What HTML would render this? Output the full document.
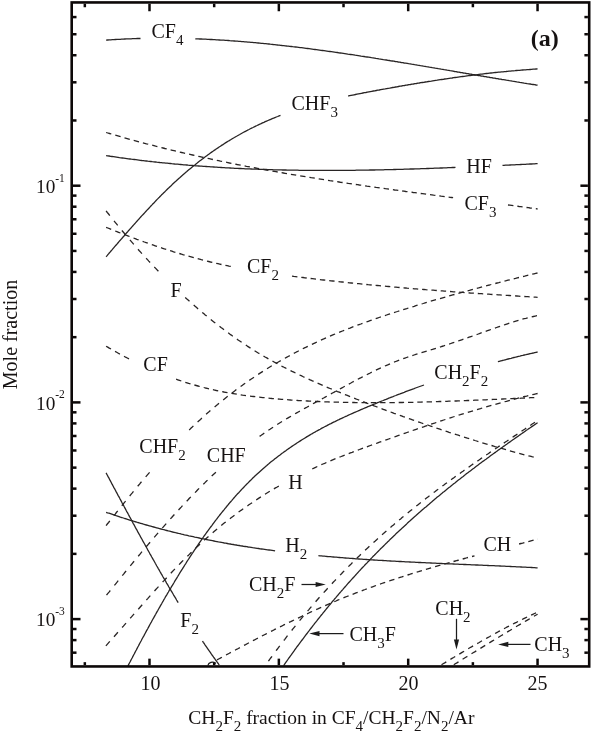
<!DOCTYPE html>
<html><head><meta charset="utf-8">
<style>
html,body{margin:0;padding:0;background:#fff;}
body{width:592px;height:736px;overflow:hidden;}
svg{display:block;}
text{font-family:"Liberation Serif","Times New Roman",serif;fill:#161212;}
.l{font-size:20px;}
.s{font-size:15px;}
</style></head>
<body>
<svg width="592" height="736" viewBox="0 0 592 736">
<rect width="592" height="736" fill="#fff"/>
<g fill="none" stroke="#282424" stroke-width="1.3" stroke-linejoin="round">
<path d="M106.1,40.1 107.7,40.0 109.2,39.9 110.8,39.8 112.3,39.7 113.9,39.6 115.5,39.5 117.0,39.4 118.6,39.3 120.1,39.3 121.7,39.2 123.3,39.1 124.8,39.0 126.4,38.9 128.0,38.9 129.5,38.8 131.1,38.8 132.6,38.7 134.2,38.6 135.8,38.6 137.3,38.5 138.9,38.5 140.5,38.5M195.3,38.8 196.8,38.9 198.3,38.9 199.8,39.0 201.3,39.0 202.8,39.1 204.3,39.2 205.8,39.2 207.3,39.3 208.8,39.4 210.3,39.5 211.8,39.5 213.3,39.6 214.8,39.7 216.3,39.8 217.8,39.9 219.3,40.0 220.8,40.1 222.3,40.2 223.8,40.2 225.3,40.3 226.8,40.4 228.3,40.5 229.8,40.7 231.3,40.8 232.8,40.9 234.3,41.0 235.8,41.1 237.3,41.2 238.8,41.3 240.3,41.4 241.8,41.6 243.3,41.7 244.8,41.8 246.3,41.9 247.8,42.1 249.3,42.2 250.8,42.3 252.3,42.4 253.8,42.6 255.3,42.7 256.8,42.9 258.3,43.0 259.8,43.1 261.3,43.3 262.8,43.4 264.3,43.6 265.8,43.7 267.3,43.9 268.8,44.0 270.3,44.2 271.8,44.3 273.3,44.5 274.7,44.6 276.2,44.8 277.7,45.0 279.2,45.1 280.7,45.3 282.2,45.5 283.7,45.6 285.2,45.8 286.7,46.0 288.2,46.1 289.7,46.3 291.2,46.5 292.7,46.7 294.2,46.8 295.7,47.0 297.1,47.2 298.6,47.4 300.1,47.6 301.6,47.7 303.1,47.9 304.6,48.1 306.1,48.3 307.6,48.5 309.1,48.7 310.6,48.9 312.1,49.1 313.5,49.3 315.0,49.5 316.5,49.7 318.0,49.9 319.5,50.1 321.0,50.3 322.5,50.5 324.0,50.7 325.5,50.9 326.9,51.1 328.4,51.3 329.9,51.5 331.4,51.7 332.9,51.9 334.4,52.1 335.9,52.3 337.4,52.5 338.9,52.8 340.3,53.0 341.8,53.2 343.3,53.4 344.8,53.6 346.3,53.8 347.8,54.1 349.3,54.3 350.7,54.5 352.2,54.7 353.7,54.9 355.2,55.2 356.7,55.4 358.2,55.6 359.7,55.8 361.1,56.1 362.6,56.3 364.1,56.5 365.6,56.8 367.1,57.0 368.6,57.2 370.1,57.4 371.5,57.7 373.0,57.9 374.5,58.1 376.0,58.4 377.5,58.6 379.0,58.9 380.5,59.1 381.9,59.3 383.4,59.6 384.9,59.8 386.4,60.0 387.9,60.3 389.4,60.5 390.8,60.8 392.3,61.0 393.8,61.2 395.3,61.5 396.8,61.7 398.3,62.0 399.7,62.2 401.2,62.5 402.7,62.7 404.2,63.0 405.7,63.2 407.2,63.4 408.6,63.7 410.1,63.9 411.6,64.2 413.1,64.4 414.6,64.7 416.0,64.9 417.5,65.2 419.0,65.4 420.5,65.7 422.0,65.9 423.5,66.2 424.9,66.4 426.4,66.7 427.9,66.9 429.4,67.2 430.9,67.4 432.3,67.7 433.8,67.9 435.3,68.2 436.8,68.4 438.3,68.7 439.8,68.9 441.2,69.2 442.7,69.4 444.2,69.7 445.7,69.9 447.2,70.2 448.6,70.4 450.1,70.7 451.6,70.9 453.1,71.2 454.6,71.5 456.1,71.7 457.5,72.0 459.0,72.2 460.5,72.5 462.0,72.7 463.5,73.0 464.9,73.2 466.4,73.5 467.9,73.7 469.4,74.0 470.9,74.2 472.3,74.5 473.8,74.7 475.3,75.0 476.8,75.2 478.3,75.5 479.8,75.7 481.2,76.0 482.7,76.2 484.2,76.5 485.7,76.7 487.2,77.0 488.6,77.2 490.1,77.5 491.6,77.7 493.1,78.0 494.6,78.2 496.1,78.5 497.5,78.7 499.0,79.0 500.5,79.2 502.0,79.5 503.5,79.7 505.0,79.9 506.4,80.2 507.9,80.4 509.4,80.7 510.9,80.9 512.4,81.2 513.9,81.4 515.3,81.6 516.8,81.9 518.3,82.1 519.8,82.4 521.3,82.6 522.8,82.8 524.2,83.1 525.7,83.3 527.2,83.6 528.7,83.8 530.2,84.0 531.7,84.3 533.1,84.5 534.6,84.7 536.1,85.0 537.6,85.2"/>
<path d="M106.1,256.7 107.1,255.6 108.1,254.4 109.0,253.3 110.0,252.2 111.0,251.0 112.0,249.9 113.0,248.7 113.9,247.6 114.9,246.4 115.9,245.3 116.9,244.2 117.9,243.0 118.8,241.9 119.8,240.7 120.8,239.6 121.8,238.5 122.8,237.3 123.8,236.2 124.8,235.1 125.7,233.9 126.7,232.8 127.7,231.7 128.7,230.5 129.7,229.4 130.7,228.3 131.7,227.1 132.7,226.0 133.7,224.9 134.7,223.8 135.7,222.6 136.7,221.5 137.7,220.4 138.7,219.3 139.7,218.1 140.7,217.0 141.7,215.9 142.8,214.8 143.8,213.7 144.8,212.6 145.8,211.5 146.8,210.4 147.9,209.3 148.9,208.2 149.9,207.1 150.9,206.0 152.0,204.9 153.0,203.8 154.1,202.7 155.1,201.6 156.1,200.5 157.2,199.4 158.2,198.4 159.3,197.3 160.3,196.2 161.4,195.1 162.5,194.1 163.5,193.0 164.6,192.0 165.7,190.9 166.8,189.8 167.8,188.8 168.9,187.8 170.0,186.7 171.1,185.7 172.2,184.6 173.3,183.6 174.4,182.6 175.5,181.6 176.6,180.5 177.7,179.5 178.8,178.5 180.0,177.5 181.1,176.5 182.2,175.5 183.3,174.5 184.5,173.5 185.6,172.6 186.8,171.6 187.9,170.6 189.1,169.6 190.2,168.7 191.4,167.7 192.5,166.8 193.7,165.8 194.9,164.9 196.0,163.9 197.2,163.0 198.4,162.0 199.6,161.1 200.8,160.2 202.0,159.3 203.2,158.4 204.4,157.5 205.6,156.6 206.8,155.7 208.0,154.8 209.2,153.9 210.4,153.0 211.7,152.1 212.9,151.3 214.1,150.4 215.4,149.6 216.6,148.7 217.9,147.9 219.1,147.0 220.4,146.2 221.6,145.4 222.9,144.6 224.2,143.7 225.4,142.9 226.7,142.1 228.0,141.3 229.3,140.6 230.6,139.8 231.8,139.0 233.1,138.2 234.4,137.5 235.7,136.7 237.0,136.0 238.4,135.2 239.7,134.5 241.0,133.7 242.3,133.0 243.6,132.3 244.9,131.6 246.3,130.9 247.6,130.2 249.0,129.5 250.3,128.8 251.6,128.1 253.0,127.5 254.3,126.8 255.7,126.1 257.0,125.5 258.4,124.8 259.8,124.2 261.1,123.6 262.5,122.9 263.9,122.3 265.2,121.7 266.6,121.1 268.0,120.5 269.4,119.9 270.8,119.3 272.2,118.7 273.6,118.2 274.9,117.6 276.3,117.0 277.7,116.5 279.1,115.9 280.5,115.4M348.2,96.0 349.6,95.7 351.1,95.4 352.6,95.1 354.1,94.8 355.5,94.5 357.0,94.2 358.5,93.9 360.0,93.6 361.5,93.3 362.9,93.0 364.4,92.7 365.9,92.5 367.4,92.2 368.9,91.9 370.3,91.6 371.8,91.3 373.3,91.0 374.8,90.8 376.3,90.5 377.7,90.2 379.2,90.0 380.7,89.7 382.2,89.4 383.7,89.1 385.2,88.9 386.7,88.6 388.1,88.3 389.6,88.1 391.1,87.8 392.6,87.5 394.1,87.3 395.6,87.0 397.0,86.8 398.5,86.5 400.0,86.2 401.5,86.0 403.0,85.7 404.5,85.5 406.0,85.2 407.4,85.0 408.9,84.7 410.4,84.5 411.9,84.2 413.4,84.0 414.9,83.7 416.4,83.5 417.9,83.2 419.3,83.0 420.8,82.7 422.3,82.5 423.8,82.3 425.3,82.0 426.8,81.8 428.3,81.5 429.8,81.3 431.3,81.1 432.7,80.8 434.2,80.6 435.7,80.4 437.2,80.2 438.7,79.9 440.2,79.7 441.7,79.5 443.2,79.3 444.7,79.0 446.2,78.8 447.7,78.6 449.2,78.4 450.6,78.2 452.1,78.0 453.6,77.7 455.1,77.5 456.6,77.3 458.1,77.1 459.6,76.9 461.1,76.7 462.6,76.5 464.1,76.3 465.6,76.1 467.1,75.9 468.6,75.7 470.1,75.5 471.6,75.3 473.1,75.2 474.6,75.0 476.1,74.8 477.6,74.6 479.1,74.4 480.5,74.2 482.0,74.1 483.5,73.9 485.0,73.7 486.5,73.5 488.0,73.4 489.5,73.2 491.0,73.0 492.5,72.9 494.0,72.7 495.5,72.5 497.0,72.4 498.5,72.2 500.0,72.1 501.5,71.9 503.0,71.8 504.5,71.6 506.0,71.5 507.5,71.3 509.0,71.2 510.5,71.1 512.0,70.9 513.5,70.8 515.0,70.7 516.5,70.5 518.1,70.4 519.6,70.3 521.1,70.1 522.6,70.0 524.1,69.9 525.6,69.8 527.1,69.7 528.6,69.6 530.1,69.5 531.6,69.4 533.1,69.2 534.6,69.1 536.1,69.0 537.6,68.9"/>
<path d="M106.1,155.6 107.6,155.8 109.1,156.0 110.6,156.3 112.0,156.5 113.5,156.7 115.0,156.9 116.5,157.1 118.0,157.3 119.5,157.6 121.0,157.8 122.5,158.0 123.9,158.2 125.4,158.4 126.9,158.6 128.4,158.8 129.9,159.0 131.4,159.2 132.9,159.3 134.4,159.5 135.9,159.7 137.4,159.9 138.9,160.1 140.3,160.3 141.8,160.5 143.3,160.6 144.8,160.8 146.3,161.0 147.8,161.2 149.3,161.3 150.8,161.5 152.3,161.7 153.8,161.8 155.3,162.0 156.8,162.2 158.3,162.3 159.8,162.5 161.3,162.6 162.7,162.8 164.2,162.9 165.7,163.1 167.2,163.2 168.7,163.4 170.2,163.5 171.7,163.7 173.2,163.8 174.7,164.0 176.2,164.1 177.7,164.2 179.2,164.4 180.7,164.5 182.2,164.6 183.7,164.8 185.2,164.9 186.7,165.0 188.2,165.2 189.7,165.3 191.2,165.4 192.7,165.5 194.2,165.6 195.7,165.8 197.2,165.9 198.7,166.0 200.2,166.1 201.7,166.2 203.2,166.3 204.7,166.4 206.2,166.5 207.7,166.6 209.2,166.7 210.7,166.8 212.2,166.9 213.7,167.0 215.2,167.1 216.7,167.2 218.2,167.3 219.7,167.4 221.2,167.5 222.7,167.6 224.2,167.7 225.7,167.8 227.2,167.9 228.7,167.9 230.2,168.0 231.7,168.1 233.2,168.2 234.7,168.3 236.2,168.3 237.7,168.4 239.2,168.5 240.7,168.5 242.2,168.6 243.7,168.7 245.2,168.8 246.7,168.8 248.2,168.9 249.7,168.9 251.2,169.0 252.7,169.1 254.2,169.1 255.7,169.2 257.2,169.2 258.7,169.3 260.2,169.3 261.7,169.4 263.2,169.4 264.7,169.5 266.2,169.5 267.7,169.6 269.2,169.6 270.7,169.7 272.2,169.7 273.7,169.8 275.2,169.8 276.7,169.8 278.2,169.9 279.7,169.9 281.2,169.9 282.7,170.0 284.2,170.0 285.7,170.0 287.2,170.1 288.7,170.1 290.2,170.1 291.7,170.2 293.2,170.2 294.7,170.2 296.2,170.2 297.7,170.2 299.3,170.3 300.8,170.3 302.3,170.3 303.8,170.3 305.3,170.3 306.8,170.4 308.3,170.4 309.8,170.4 311.3,170.4 312.8,170.4 314.3,170.4 315.8,170.4 317.3,170.4 318.8,170.4 320.3,170.4 321.8,170.4 323.3,170.4 324.8,170.4 326.3,170.4 327.8,170.4 329.3,170.4 330.8,170.4 332.3,170.4 333.8,170.4 335.3,170.4 336.8,170.4 338.3,170.4 339.8,170.4 341.3,170.4 342.8,170.4 344.3,170.4 345.8,170.4 347.3,170.3 348.8,170.3 350.3,170.3 351.8,170.3 353.4,170.3 354.9,170.3 356.4,170.2 357.9,170.2 359.4,170.2 360.9,170.2 362.4,170.2 363.9,170.1 365.4,170.1 366.9,170.1 368.4,170.1 369.9,170.0 371.4,170.0 372.9,170.0 374.4,170.0 375.9,169.9 377.4,169.9 378.9,169.9 380.4,169.8 381.9,169.8 383.4,169.8 384.9,169.7 386.4,169.7 387.9,169.7 389.4,169.6 390.9,169.6 392.4,169.6 393.9,169.5 395.4,169.5 396.9,169.4 398.4,169.4 399.9,169.4 401.4,169.3 402.9,169.3 404.4,169.2 405.9,169.2 407.4,169.1 408.9,169.1 410.4,169.0 411.9,169.0 413.4,169.0 415.0,168.9 416.5,168.9 418.0,168.8 419.5,168.8 421.0,168.7 422.5,168.7 424.0,168.6 425.5,168.6 427.0,168.5 428.5,168.5 430.0,168.4 431.5,168.3 433.0,168.3 434.5,168.2 436.0,168.2 437.5,168.1 439.0,168.1 440.5,168.0 442.0,168.0 443.5,167.9 445.0,167.8 446.5,167.8 448.0,167.7 449.5,167.7 451.0,167.6 452.5,167.5 454.0,167.5 455.5,167.4M502.5,165.3 504.0,165.3 505.5,165.2 507.1,165.1 508.6,165.1 510.1,165.0 511.6,164.9 513.2,164.8 514.7,164.8 516.2,164.7 517.8,164.6 519.3,164.6 520.8,164.5 522.3,164.4 523.9,164.3 525.4,164.3 526.9,164.2 528.4,164.1 530.0,164.0 531.5,164.0 533.0,163.9 534.5,163.8 536.1,163.7 537.6,163.7"/>
<path d="M106.1,132.5 107.8,133.0 109.6,133.5 111.3,134.0M115.3,135.2 117.1,135.7 118.8,136.2 120.6,136.7M124.5,137.8 126.3,138.3 128.0,138.8 129.8,139.3M133.7,140.4 135.5,140.8 137.2,141.3 139.0,141.8M142.9,142.8 144.7,143.3 146.5,143.8 148.2,144.2M152.2,145.2 153.9,145.7 155.7,146.2 157.4,146.6M161.4,147.6 163.1,148.0 164.9,148.5 166.7,148.9M170.6,149.9 172.4,150.3 174.1,150.7 175.9,151.1M179.8,152.1 181.6,152.5 183.4,152.9 185.1,153.3M189.1,154.2 190.9,154.6 192.6,155.0 194.4,155.4M198.3,156.3 200.1,156.7 201.9,157.1 203.6,157.5M207.6,158.3 209.3,158.7 211.1,159.1 212.9,159.5M216.8,160.3 218.6,160.7 220.4,161.1 222.1,161.4M226.1,162.2 227.8,162.6 229.6,163.0 231.4,163.3M235.3,164.1 237.1,164.5 238.9,164.8 240.7,165.2M244.6,165.9 246.4,166.3 248.1,166.6 249.9,166.9M253.8,167.7 255.6,168.0 257.4,168.3 259.2,168.7M263.1,169.4 264.9,169.7 266.7,170.1 268.4,170.4M272.4,171.1 274.1,171.4 275.9,171.7 277.7,172.0M281.6,172.7 283.4,173.0 285.2,173.3 287.0,173.6M290.9,174.3 292.7,174.6 294.5,174.9 296.2,175.2M300.2,175.8 301.9,176.1 303.7,176.4 305.5,176.7M309.4,177.4 311.2,177.7 313.0,177.9 314.8,178.2M318.7,178.8 320.5,179.1 322.3,179.4 324.0,179.7M328.0,180.3 329.8,180.6 331.5,180.8 333.3,181.1M337.2,181.7 339.0,182.0 340.8,182.3 342.6,182.5M346.5,183.1 348.3,183.4 350.1,183.6 351.9,183.9M355.8,184.5 357.6,184.7 359.4,185.0 361.2,185.2M365.1,185.8 366.9,186.1 368.6,186.3 370.4,186.6M374.3,187.1 376.1,187.4 377.9,187.6 379.7,187.9M383.6,188.4 385.4,188.7 387.2,188.9 389.0,189.2M392.9,189.7 394.7,190.0 396.5,190.2 398.3,190.4M402.2,191.0 404.0,191.2 405.8,191.5 407.5,191.7M411.5,192.2 413.2,192.5 415.0,192.7 416.8,192.9M420.7,193.5 422.5,193.7 424.3,193.9 426.1,194.2M430.0,194.7 431.8,194.9 433.6,195.2 435.4,195.4M439.3,195.9 441.1,196.2 442.9,196.4 444.7,196.6M448.6,197.1 450.1,197.3 451.6,197.5 453.1,197.7M508.0,205.0 509.8,205.2 511.6,205.4 513.4,205.7M517.3,206.2 519.1,206.5 520.8,206.7 522.6,206.9M526.5,207.5 528.3,207.7 530.1,208.0 531.9,208.2M535.8,208.7 537.6,209.0"/>
<path d="M106.1,227.3 107.8,228.0 109.5,228.7 111.2,229.4M115.2,231.0 116.9,231.6 118.6,232.3 120.4,233.0M124.3,234.5 126.1,235.2 127.8,235.8 129.5,236.5M133.5,238.0 135.2,238.6 136.9,239.3 138.6,239.9M142.6,241.3 144.4,242.0 146.1,242.6 147.8,243.2M151.8,244.6 153.5,245.2 155.2,245.8 157.0,246.4M161.0,247.7 162.7,248.3 164.4,248.9 166.2,249.4M170.1,250.7 171.9,251.2 173.6,251.8 175.4,252.3M179.3,253.5 181.1,254.0 182.8,254.6 184.6,255.1M188.5,256.2 190.3,256.7 192.0,257.2 193.8,257.7M197.7,258.7 199.5,259.2 201.3,259.7 203.0,260.1M207.0,261.1 208.7,261.5 210.5,262.0 212.3,262.4M216.2,263.3 218.0,263.7 219.7,264.1 221.5,264.5M225.4,265.3 227.2,265.7 229.0,266.1 230.8,266.4M292.0,276.1 293.8,276.4 295.6,276.6 297.4,276.8M301.3,277.3 303.1,277.5 304.9,277.8 306.7,278.0M310.6,278.5 312.4,278.7 314.2,278.9 316.0,279.1M319.9,279.6 321.7,279.8 323.5,280.0 325.3,280.2M329.2,280.6 331.0,280.8 332.8,281.0 334.6,281.2M338.5,281.6 340.3,281.8 342.1,282.0 343.8,282.2M347.8,282.6 349.5,282.8 351.3,283.0 353.1,283.2M357.0,283.6 358.8,283.7 360.6,283.9 362.4,284.1M366.3,284.5 368.1,284.7 369.9,284.8 371.7,285.0M375.6,285.4 377.4,285.5 379.2,285.7 381.0,285.9M384.9,286.2 386.7,286.4 388.5,286.5 390.3,286.7M394.2,287.1 396.0,287.2 397.8,287.4 399.6,287.5M403.5,287.9 405.3,288.0 407.1,288.2 408.9,288.3M412.8,288.6 414.6,288.8 416.4,288.9 418.2,289.1M422.1,289.4 423.9,289.5 425.7,289.7 427.5,289.8M431.4,290.1 433.2,290.2 435.0,290.4 436.8,290.5M440.7,290.8 442.5,290.9 444.3,291.1 446.1,291.2M450.0,291.5 451.8,291.6 453.5,291.8 455.3,291.9M459.2,292.2 461.0,292.3 462.8,292.4 464.6,292.6M468.5,292.8 470.3,293.0 472.1,293.1 473.9,293.2M477.8,293.5 479.6,293.6 481.4,293.7 483.2,293.8M487.1,294.1 488.9,294.2 490.7,294.3 492.5,294.5M496.4,294.7 498.2,294.8 500.0,294.9 501.8,295.1M505.7,295.3 507.5,295.4 509.3,295.5 511.1,295.7M515.0,295.9 516.8,296.0 518.6,296.1 520.4,296.3M524.3,296.5 526.1,296.6 527.9,296.7 529.7,296.8M533.6,297.1 535.6,297.2 537.6,297.3"/>
<path d="M106.1,210.9 107.3,212.5 108.6,214.0 109.8,215.6M114.0,220.8 115.2,222.3 116.5,223.9 117.7,225.4M121.9,230.5 123.2,232.0 124.5,233.5 125.7,235.0M129.9,239.9 131.2,241.4 132.5,242.9 133.8,244.4M138.0,249.2 139.3,250.7 140.6,252.1 141.9,253.6M146.1,258.2 147.5,259.6 148.8,261.1 150.1,262.5M154.3,267.0 155.7,268.4 157.0,269.8 158.4,271.2M185.2,297.4 186.6,298.7 188.1,300.0 189.5,301.3M193.7,305.0 195.1,306.3 196.6,307.6 198.1,308.9M202.2,312.4 203.7,313.6 205.2,314.9 206.7,316.1M210.8,319.5 212.3,320.7 213.8,321.9 215.3,323.1M219.5,326.3 221.0,327.5 222.5,328.6 224.0,329.8M228.2,332.8 229.7,334.0 231.3,335.1 232.8,336.2M236.9,339.1 238.5,340.2 240.1,341.2 241.6,342.3M245.8,345.0 247.3,346.1 248.9,347.1 250.5,348.1M254.6,350.7 256.2,351.7 257.8,352.7 259.4,353.6M263.5,356.1 265.1,357.0 266.8,357.9 268.4,358.9M272.5,361.1 274.1,362.0 275.7,362.9 277.4,363.8M281.4,366.0 283.1,366.8 284.8,367.7 286.4,368.5M290.5,370.6 292.1,371.4 293.8,372.2 295.5,373.0M299.5,375.0 301.2,375.7 302.8,376.5 304.5,377.3M308.6,379.1 310.2,379.9 311.9,380.7 313.6,381.4M317.6,383.2 319.3,383.9 321.0,384.6 322.7,385.4M326.7,387.1 328.4,387.8 330.1,388.5 331.8,389.2M335.8,390.9 337.5,391.6 339.2,392.2 340.9,392.9M344.9,394.6 346.7,395.2 348.4,395.9 350.1,396.6M354.1,398.2 355.8,398.9 357.5,399.5 359.2,400.2M363.2,401.7 364.9,402.4 366.6,403.1 368.3,403.7M372.3,405.2 374.1,405.9 375.8,406.5 377.5,407.2M381.5,408.7 383.2,409.3 384.9,409.9 386.6,410.6M390.6,412.0 392.3,412.6 394.1,413.3 395.8,413.9M399.8,415.3 401.5,415.9 403.2,416.6 404.9,417.2M408.9,418.6 410.7,419.2 412.4,419.8 414.1,420.4M418.1,421.8 419.8,422.4 421.5,423.0 423.3,423.6M427.3,424.9 429.0,425.5 430.7,426.1 432.5,426.7M436.4,428.1 438.2,428.6 439.9,429.2 441.6,429.8M445.6,431.1 447.3,431.7 449.1,432.3 450.8,432.8M454.8,434.1 456.5,434.7 458.3,435.2 460.0,435.8M464.0,437.1 465.7,437.6 467.4,438.2 469.2,438.7M473.1,439.9 474.9,440.5 476.6,441.0 478.4,441.6M482.3,442.8 484.1,443.3 485.8,443.8 487.6,444.3M491.5,445.5 493.3,446.0 495.0,446.6 496.8,447.1M500.7,448.2 502.5,448.7 504.2,449.2 506.0,449.7M509.9,450.8 511.7,451.3 513.5,451.8 515.2,452.3M519.2,453.3 520.9,453.8 522.7,454.3 524.4,454.8M528.4,455.8 530.1,456.2 531.9,456.7 533.7,457.1"/>
<path d="M106.1,346.2 107.7,347.1 109.3,348.1 111.0,349.0M115.0,351.4 116.7,352.3 118.3,353.2 119.9,354.1M124.0,356.3 125.6,357.2 127.3,358.0 129.0,358.9M176.1,379.2 177.8,379.8 179.5,380.4 181.3,381.0M185.3,382.3 187.0,382.8 188.7,383.4 190.5,383.9M194.4,385.0 196.2,385.5 198.0,386.0 199.7,386.5M203.7,387.5 205.4,388.0 207.2,388.4 209.0,388.8M212.9,389.7 214.7,390.1 216.4,390.5 218.2,390.8M222.2,391.6 223.9,392.0 225.7,392.3 227.5,392.6M231.4,393.3 233.2,393.6 235.0,393.9 236.8,394.2M240.7,394.8 242.5,395.1 244.3,395.3 246.0,395.6M250.0,396.1 251.8,396.3 253.5,396.5 255.3,396.7M259.2,397.2 261.0,397.4 262.8,397.6 264.6,397.7M268.5,398.1 270.3,398.3 272.1,398.5 273.9,398.6M277.8,399.0 279.6,399.1 281.4,399.3 283.2,399.4M287.1,399.7 288.9,399.8 290.7,400.0 292.5,400.1M296.4,400.3 298.2,400.5 300.0,400.6 301.8,400.7M305.7,400.9 307.5,401.0 309.3,401.1 311.1,401.2M315.0,401.4 316.8,401.5 318.6,401.5 320.4,401.6M324.3,401.8 326.1,401.8 327.9,401.9 329.7,402.0M333.6,402.1 335.4,402.1 337.2,402.2 339.0,402.2M342.9,402.3 344.7,402.4 346.5,402.4 348.3,402.4M352.2,402.5 354.0,402.5 355.8,402.6 357.6,402.6M361.5,402.6 363.3,402.6 365.1,402.7 366.9,402.7M370.8,402.7 372.6,402.7 374.4,402.7 376.2,402.7M380.1,402.7 381.9,402.7 383.7,402.7 385.5,402.6M389.4,402.6 391.2,402.6 393.0,402.6 394.8,402.6M398.7,402.5 400.5,402.5 402.3,402.5 404.1,402.4M408.0,402.4 409.8,402.3 411.6,402.3 413.4,402.3M417.3,402.2 419.1,402.1 420.9,402.1 422.7,402.0M426.6,401.9 428.4,401.9 430.2,401.8 432.0,401.8M435.9,401.7 437.7,401.6 439.5,401.5 441.3,401.5M445.2,401.4 447.0,401.3 448.8,401.2 450.6,401.2M454.5,401.0 456.3,401.0 458.1,400.9 459.9,400.8M463.8,400.7 465.6,400.6 467.4,400.5 469.2,400.5M473.1,400.3 474.9,400.2 476.7,400.2 478.5,400.1M482.4,399.9 484.2,399.8 486.0,399.8 487.8,399.7M491.7,399.5 493.5,399.4 495.3,399.3 497.1,399.3M501.0,399.1 502.8,399.0 504.6,398.9 506.4,398.9M510.3,398.7 512.1,398.6 513.9,398.5 515.7,398.4M519.6,398.3 521.4,398.2 523.2,398.1 525.0,398.0M528.9,397.8 530.7,397.7 532.5,397.7 534.3,397.6"/>
<path d="M127.9,666.0 128.6,664.6 129.3,663.3 130.0,662.0 130.7,660.6 131.4,659.3 132.1,658.0 132.8,656.6 133.5,655.3 134.2,654.0 134.9,652.6 135.6,651.3 136.3,650.0 137.0,648.6 137.7,647.3 138.4,646.0 139.1,644.6 139.8,643.3 140.5,642.0 141.2,640.7 141.9,639.3 142.6,638.0 143.4,636.7 144.1,635.4 144.8,634.0 145.5,632.7 146.2,631.4 146.9,630.1 147.7,628.7 148.4,627.4 149.1,626.1 149.8,624.8 150.5,623.5 151.3,622.1 152.0,620.8 152.7,619.5 153.5,618.2 154.2,616.9 154.9,615.6 155.7,614.2 156.4,612.9 157.1,611.6 157.9,610.3 158.6,609.0 159.4,607.7 160.1,606.4 160.8,605.1 161.6,603.8 162.3,602.5 163.1,601.1 163.8,599.8 164.6,598.5 165.3,597.2 166.1,595.9 166.9,594.6 167.6,593.3 168.4,592.0 169.1,590.7 169.9,589.4 170.7,588.1 171.4,586.9 172.2,585.6 173.0,584.3 173.8,583.0 174.5,581.7 175.3,580.4 176.1,579.1 176.9,577.8 177.7,576.5 178.4,575.3 179.2,574.0 180.0,572.7 180.8,571.4 181.6,570.1 182.4,568.9 183.2,567.6 184.0,566.3 184.8,565.0 185.6,563.8 186.4,562.5 187.2,561.2 188.0,560.0 188.9,558.7 189.7,557.4 190.5,556.2 191.3,554.9 192.1,553.6 193.0,552.4 193.8,551.1 194.6,549.9 195.5,548.6 196.3,547.4 197.2,546.1 198.0,544.9 198.8,543.6 199.7,542.4 200.6,541.2 201.4,539.9 202.3,538.7 203.1,537.5 204.0,536.2 204.9,535.0 205.7,533.8 206.6,532.5 207.5,531.3 208.4,530.1 209.3,528.9 210.2,527.7 211.1,526.5 212.0,525.3 212.9,524.0 213.8,522.8 214.7,521.6 215.6,520.4 216.5,519.3 217.4,518.1 218.3,516.9 219.3,515.7 220.2,514.5 221.1,513.3 222.1,512.1 223.0,511.0 224.0,509.8 224.9,508.6 225.9,507.5 226.8,506.3 227.8,505.2 228.7,504.0 229.7,502.8 230.7,501.7 231.7,500.6 232.7,499.4 233.6,498.3 234.6,497.2 235.6,496.0 236.6,494.9 237.6,493.8 238.7,492.7 239.7,491.6 240.7,490.5 241.7,489.4 242.8,488.3 243.8,487.2 244.8,486.1 245.9,485.0 246.9,483.9 248.0,482.9 249.1,481.8 250.1,480.7 251.2,479.7 252.3,478.6 253.4,477.6 254.4,476.5 255.5,475.5 256.6,474.5 257.7,473.5 258.9,472.4 260.0,471.4 261.1,470.4 262.2,469.4 263.3,468.4 264.5,467.4 265.6,466.5 266.8,465.5 267.9,464.5 269.1,463.6 270.2,462.6 271.4,461.6 272.6,460.7 273.8,459.8 274.9,458.8 276.1,457.9 277.3,457.0 278.5,456.1 279.7,455.2 280.9,454.2 282.1,453.3 283.3,452.5 284.5,451.6 285.8,450.7 287.0,449.8 288.2,448.9 289.5,448.1 290.7,447.2 291.9,446.4 293.2,445.5 294.4,444.7 295.7,443.9 296.9,443.0 298.2,442.2 299.5,441.4 300.7,440.6 302.0,439.8 303.3,439.0 304.6,438.2 305.9,437.4 307.1,436.6 308.4,435.9 309.7,435.1 311.0,434.3 312.3,433.6 313.6,432.8 314.9,432.1 316.3,431.3 317.6,430.6 318.9,429.9 320.2,429.2 321.5,428.4 322.9,427.7 324.2,427.0 325.5,426.3 326.9,425.6 328.2,424.9 329.5,424.2 330.9,423.6 332.2,422.9 333.6,422.2 334.9,421.6 336.3,420.9 337.6,420.2 339.0,419.6 340.3,418.9 341.7,418.3 343.1,417.7 344.4,417.0 345.8,416.4 347.2,415.8 348.5,415.1 349.9,414.5 351.3,413.9 352.6,413.3 354.0,412.7 355.4,412.1 356.8,411.5 358.2,410.9 359.5,410.3 360.9,409.7 362.3,409.1 363.7,408.5 365.1,407.9 366.5,407.3 367.9,406.7 369.3,406.2 370.6,405.6 372.0,405.0 373.4,404.4 374.8,403.9 376.2,403.3 377.6,402.7 379.0,402.2 380.4,401.6 381.8,401.0 383.2,400.5 384.6,399.9 386.0,399.4 387.4,398.8 388.8,398.2 390.2,397.7 391.6,397.1 393.0,396.6 394.4,396.0 395.8,395.5 397.2,394.9 398.6,394.4 400.0,393.9 401.4,393.3 402.8,392.8 404.2,392.3 405.6,391.7 407.0,391.2 408.4,390.7 409.9,390.1 411.3,389.6 412.7,389.1 414.1,388.6 415.5,388.0 416.9,387.5 418.3,387.0 419.7,386.5 421.2,386.0 422.6,385.5 424.0,385.0M497.9,361.7 499.3,361.3 500.8,360.9 502.2,360.5 503.7,360.2 505.2,359.8 506.6,359.4 508.1,359.0 509.6,358.6 511.1,358.3 512.5,357.9 514.0,357.5 515.5,357.2 516.9,356.8 518.4,356.4 519.9,356.1 521.4,355.7 522.8,355.4 524.3,355.0 525.8,354.7 527.3,354.3 528.7,354.0 530.2,353.6 531.7,353.3 533.2,353.0 534.6,352.6 536.1,352.3 537.6,352.0"/>
<path d="M106.1,525.6 107.3,524.0 108.6,522.5 109.8,520.9M113.9,515.6 115.2,514.1 116.4,512.5 117.7,510.9M121.8,505.7 123.1,504.2 124.3,502.6 125.6,501.1M129.7,496.0 131.0,494.4 132.3,492.9 133.5,491.4M137.7,486.3 139.0,484.8 140.2,483.3 141.5,481.8M145.7,476.9 147.0,475.4 148.3,473.9 149.6,472.4M189.2,430.0 190.6,428.6 192.0,427.3 193.4,425.9M197.6,422.0 199.0,420.7 200.5,419.4 201.9,418.1M206.1,414.3 207.5,413.0 209.0,411.8 210.4,410.5M214.6,406.9 216.1,405.7 217.6,404.5 219.0,403.2M223.2,399.9 224.7,398.7 226.2,397.5 227.7,396.3M231.9,393.1 233.4,391.9 234.9,390.8 236.4,389.6M240.6,386.6 242.1,385.5 243.7,384.3 245.2,383.2M249.3,380.4 250.9,379.3 252.5,378.2 254.0,377.2M258.2,374.4 259.7,373.4 261.3,372.4 262.9,371.4M267.0,368.8 268.6,367.8 270.2,366.8 271.8,365.8M275.9,363.4 277.5,362.5 279.2,361.5 280.8,360.6M284.9,358.3 286.5,357.4 288.1,356.5 289.8,355.6M293.8,353.4 295.5,352.5 297.1,351.7 298.8,350.8M302.8,348.8 304.5,347.9 306.2,347.1 307.8,346.3M311.9,344.4 313.5,343.6 315.2,342.8 316.9,342.0M320.9,340.2 322.6,339.4 324.3,338.7 326.0,337.9M330.0,336.2 331.7,335.4 333.4,334.7 335.1,334.0M339.1,332.4 340.8,331.7 342.5,331.0 344.2,330.3M348.2,328.7 350.0,328.1 351.7,327.4 353.4,326.7M357.4,325.2 359.1,324.6 360.8,324.0 362.5,323.3M366.5,321.9 368.3,321.3 370.0,320.7 371.7,320.1M375.7,318.7 377.4,318.1 379.1,317.5 380.9,316.9M384.9,315.6 386.6,315.0 388.3,314.4 390.1,313.9M394.0,312.6 395.8,312.0 397.5,311.5 399.3,310.9M403.2,309.7 405.0,309.1 406.7,308.6 408.4,308.0M412.4,306.8 414.2,306.3 415.9,305.7 417.6,305.2M421.6,304.0 423.3,303.5 425.1,302.9 426.8,302.4M430.8,301.2 432.5,300.7 434.3,300.2 436.0,299.7M440.0,298.6 441.8,298.1 443.5,297.6 445.3,297.1M449.2,295.9 451.0,295.4 452.7,294.9 454.5,294.5M458.4,293.4 460.2,292.9 461.9,292.4 463.7,291.9M467.6,290.8 469.4,290.4 471.1,289.9 472.9,289.4M476.8,288.3 478.6,287.9 480.4,287.4 482.1,286.9M486.1,285.9 487.8,285.4 489.6,285.0 491.3,284.5M495.3,283.5 497.1,283.0 498.8,282.6 500.6,282.1M504.5,281.1 506.3,280.7 508.0,280.2 509.8,279.8M513.7,278.8 515.5,278.4 517.3,277.9 519.0,277.5M523.0,276.5 524.7,276.1 526.5,275.6 528.3,275.2M532.2,274.2 534.0,273.8 535.7,273.4 537.5,273.0"/>
<path d="M106.5,595.2 107.7,593.6 109.0,592.1 110.3,590.5M114.4,585.4 115.7,583.8 116.9,582.3 118.2,580.7M122.3,575.6 123.6,574.1 124.8,572.5 126.1,571.0M130.3,565.9 131.5,564.4 132.8,562.8 134.1,561.3M138.2,556.3 139.5,554.8 140.8,553.2 142.0,551.7M146.2,546.8 147.5,545.3 148.8,543.7 150.1,542.2M154.2,537.4 155.5,535.9 156.8,534.4 158.1,532.9M162.3,528.1 163.6,526.6 164.9,525.1 166.2,523.6M170.4,518.9 171.7,517.5 173.0,516.0 174.4,514.5M178.5,510.0 179.9,508.5 181.2,507.1 182.5,505.6M186.7,501.2 188.1,499.8 189.4,498.3 190.8,496.9M195.0,492.6 196.4,491.2 197.7,489.8 199.1,488.4M203.3,484.2 204.7,482.9 206.1,481.5 207.5,480.1M211.7,476.1 213.1,474.8 214.5,473.5 215.9,472.2M259.6,436.4 261.2,435.3 262.7,434.2 264.3,433.1M268.4,430.3 270.0,429.3 271.5,428.2 273.1,427.2M277.2,424.5 278.8,423.5 280.4,422.5 282.0,421.5M286.1,419.0 287.7,418.1 289.4,417.1 291.0,416.2M295.1,413.8 296.7,412.9 298.3,412.0 299.9,411.1M304.0,408.8 305.6,407.9 307.3,407.0 308.9,406.1M313.0,403.8 314.6,402.9 316.2,402.0 317.9,401.1M321.9,398.9 323.6,398.0 325.2,397.1 326.8,396.2M330.9,393.9 332.5,393.0 334.2,392.1 335.8,391.2M339.9,389.0 341.5,388.1 343.1,387.2 344.8,386.3M348.8,384.1 350.5,383.2 352.1,382.3 353.8,381.4M357.8,379.3 359.5,378.4 361.1,377.6 362.8,376.7M366.8,374.7 368.5,373.8 370.2,373.0 371.8,372.2M375.9,370.2 377.5,369.4 379.2,368.6 380.9,367.9M384.9,366.0 386.6,365.3 388.3,364.6 390.0,363.8M394.0,362.2 395.7,361.5 397.4,360.8 399.2,360.2M403.2,358.7 404.9,358.1 406.6,357.5 408.3,356.9M412.3,355.6 414.1,355.0 415.8,354.4 417.5,353.9M421.5,352.7 423.3,352.1 425.0,351.6 426.7,351.1M430.7,349.9 432.4,349.4 434.2,348.8 435.9,348.3M439.9,347.1 441.6,346.5 443.4,346.0 445.1,345.4M449.1,344.1 450.8,343.5 452.5,342.9 454.3,342.4M458.2,341.0 460.0,340.4 461.7,339.8 463.4,339.2M467.4,337.8 469.1,337.2 470.9,336.6 472.6,336.0M476.6,334.6 478.3,334.0 480.0,333.3 481.7,332.7M485.7,331.3 487.5,330.7 489.2,330.1 490.9,329.5M494.9,328.1 496.6,327.5 498.3,326.9 500.1,326.3M504.0,325.0 505.8,324.4 507.5,323.8 509.3,323.2M513.2,322.0 515.0,321.4 516.7,320.9 518.5,320.4M522.4,319.2 524.2,318.7 525.9,318.3 527.7,317.8M531.7,316.9 533.4,316.5 535.2,316.1 537.0,315.7"/>
<path d="M105.9,645.9 107.2,644.4 108.5,642.9 109.8,641.4M114.0,636.7 115.3,635.2 116.6,633.8 117.9,632.3M122.1,627.5 123.4,626.1 124.7,624.6 126.0,623.1M130.2,618.3 131.5,616.9 132.8,615.4 134.1,613.9M138.3,609.2 139.6,607.7 140.9,606.2 142.2,604.7M146.4,600.0 147.7,598.6 149.0,597.1 150.3,595.6M154.5,591.0 155.8,589.5 157.1,588.1 158.5,586.6M162.6,582.0 164.0,580.6 165.3,579.2 166.7,577.7M170.8,573.3 172.2,571.8 173.5,570.4 174.9,569.0M179.1,564.6 180.4,563.2 181.8,561.8 183.2,560.4M187.4,556.2 188.8,554.9 190.2,553.5 191.5,552.1M195.7,548.1 197.1,546.8 198.6,545.4 200.0,544.1M204.2,540.3 205.6,539.0 207.0,537.7 208.5,536.4M212.7,532.7 214.1,531.5 215.6,530.2 217.1,529.0M221.3,525.6 222.7,524.3 224.2,523.1 225.7,521.9M229.9,518.7 231.4,517.5 232.9,516.4 234.5,515.2M238.6,512.1 240.1,511.0 241.7,509.9 243.2,508.8M247.4,505.9 248.9,504.8 250.5,503.8 252.1,502.7M256.2,500.0 257.8,498.9 259.3,497.9 260.9,496.9M265.0,494.3 266.6,493.3 268.2,492.3 269.8,491.3M273.9,488.9 275.5,487.9 277.2,487.0 278.8,486.1M312.3,468.8 313.9,468.1 315.6,467.3 317.3,466.5M321.3,464.7 323.0,464.0 324.7,463.3 326.4,462.5M330.4,460.9 332.1,460.1 333.8,459.4 335.5,458.7M339.5,457.1 341.2,456.5 342.9,455.8 344.7,455.1M348.7,453.6 350.4,452.9 352.1,452.3 353.8,451.6M357.8,450.1 359.5,449.5 361.2,448.8 363.0,448.2M366.9,446.8 368.7,446.1 370.4,445.5 372.1,444.9M376.1,443.5 377.8,442.8 379.5,442.2 381.3,441.6M385.3,440.2 387.0,439.6 388.7,439.0 390.4,438.4M394.4,437.0 396.1,436.3 397.9,435.7 399.6,435.1M403.6,433.7 405.3,433.1 407.0,432.5 408.8,431.9M412.7,430.5 414.5,429.9 416.2,429.3 417.9,428.7M421.9,427.3 423.6,426.8 425.4,426.2 427.1,425.6M431.1,424.2 432.8,423.6 434.5,423.1 436.3,422.5M440.2,421.2 442.0,420.6 443.7,420.0 445.4,419.5M449.4,418.2 451.2,417.6 452.9,417.0 454.6,416.5M458.6,415.2 460.3,414.7 462.1,414.1 463.8,413.6M467.8,412.4 469.5,411.8 471.3,411.3 473.0,410.8M477.0,409.6 478.7,409.1 480.5,408.6 482.2,408.0M486.2,406.9 487.9,406.4 489.7,405.9 491.4,405.4M495.4,404.3 497.1,403.8 498.9,403.3 500.6,402.8M504.6,401.7 506.4,401.3 508.1,400.8 509.9,400.3M513.8,399.3 515.6,398.8 517.3,398.4 519.1,397.9M523.0,396.9 524.8,396.5 526.6,396.1 528.3,395.6M532.3,394.7 534.0,394.3 535.8,393.9 537.6,393.5"/>
<path d="M106.1,512.3 107.5,512.8 109.0,513.2 110.4,513.7 111.8,514.2 113.2,514.7 114.7,515.2 116.1,515.7 117.5,516.1 119.0,516.6 120.4,517.1 121.8,517.5 123.3,518.0 124.7,518.5 126.2,518.9 127.6,519.4 129.0,519.8 130.5,520.3 131.9,520.7 133.4,521.2 134.8,521.6 136.3,522.0 137.7,522.5 139.2,522.9 140.6,523.3 142.0,523.7 143.5,524.2 144.9,524.6 146.4,525.0 147.9,525.4 149.3,525.8 150.8,526.2 152.2,526.6 153.7,527.0 155.1,527.4 156.6,527.8 158.0,528.2 159.5,528.6 161.0,529.0 162.4,529.4 163.9,529.7 165.3,530.1 166.8,530.5 168.3,530.9 169.7,531.2 171.2,531.6 172.7,532.0 174.1,532.3 175.6,532.7 177.1,533.0 178.5,533.4 180.0,533.7 181.5,534.1 182.9,534.4 184.4,534.8 185.9,535.1 187.4,535.4 188.8,535.8 190.3,536.1 191.8,536.4 193.2,536.7 194.7,537.1 196.2,537.4 197.7,537.7 199.2,538.0 200.6,538.3 202.1,538.6 203.6,538.9 205.1,539.2 206.5,539.5 208.0,539.8 209.5,540.1 211.0,540.4 212.5,540.7 213.9,541.0 215.4,541.3 216.9,541.6 218.4,541.9 219.9,542.1 221.4,542.4 222.8,542.7 224.3,543.0 225.8,543.2 227.3,543.5 228.8,543.8 230.3,544.0 231.8,544.3 233.3,544.5 234.7,544.8 236.2,545.0 237.7,545.3 239.2,545.5 240.7,545.8 242.2,546.0 243.7,546.3 245.2,546.5 246.7,546.7 248.2,547.0 249.6,547.2 251.1,547.4 252.6,547.7 254.1,547.9 255.6,548.1 257.1,548.3 258.6,548.5 260.1,548.8 261.6,549.0 263.1,549.2 264.6,549.4 266.1,549.6 267.6,549.8 269.1,550.0 270.6,550.2 272.1,550.4 273.6,550.6 275.1,550.8M318.4,555.6 319.9,555.8 321.4,555.9 322.9,556.1 324.4,556.2 325.9,556.3 327.4,556.5 328.9,556.6 330.4,556.7 331.9,556.9 333.4,557.0 334.9,557.1 336.4,557.2 337.9,557.4 339.4,557.5 340.9,557.6 342.4,557.7 343.9,557.9 345.4,558.0 346.9,558.1 348.4,558.2 349.9,558.3 351.4,558.4 352.9,558.5 354.4,558.6 355.9,558.8 357.4,558.9 358.9,559.0 360.4,559.1 361.9,559.2 363.4,559.3 364.9,559.4 366.4,559.5 367.9,559.6 369.4,559.7 370.9,559.8 372.4,559.9 373.9,560.0 375.4,560.1 376.9,560.2 378.4,560.3 379.9,560.3 381.4,560.4 382.9,560.5 384.4,560.6 385.9,560.7 387.4,560.8 388.9,560.9 390.4,561.0 391.9,561.1 393.4,561.1 394.9,561.2 396.4,561.3 397.9,561.4 399.4,561.5 400.9,561.5 402.4,561.6 403.9,561.7 405.4,561.8 406.9,561.9 408.4,561.9 409.9,562.0 411.4,562.1 412.9,562.2 414.4,562.2 415.9,562.3 417.4,562.4 418.9,562.5 420.4,562.5 421.9,562.6 423.4,562.7 424.9,562.7 426.4,562.8 427.9,562.9 429.4,562.9 430.9,563.0 432.4,563.1 433.9,563.2 435.4,563.2 437.0,563.3 438.5,563.4 440.0,563.4 441.5,563.5 443.0,563.6 444.5,563.6 446.0,563.7 447.5,563.8 449.0,563.8 450.5,563.9 452.0,563.9 453.5,564.0 455.0,564.1 456.5,564.1 458.0,564.2 459.5,564.3 461.0,564.3 462.5,564.4 464.0,564.5 465.5,564.5 467.0,564.6 468.5,564.7 470.0,564.7 471.5,564.8 473.0,564.8 474.5,564.9 476.0,565.0 477.5,565.0 479.0,565.1 480.5,565.2 482.0,565.2 483.5,565.3 485.0,565.4 486.5,565.4 488.0,565.5 489.5,565.6 491.0,565.6 492.5,565.7 494.0,565.7 495.5,565.8 497.0,565.9 498.5,565.9 500.1,566.0 501.6,566.1 503.1,566.1 504.6,566.2 506.1,566.3 507.6,566.4 509.1,566.4 510.6,566.5 512.1,566.6 513.6,566.6 515.1,566.7 516.6,566.8 518.1,566.8 519.6,566.9 521.1,567.0 522.6,567.1 524.1,567.1 525.6,567.2 527.1,567.3 528.6,567.4 530.1,567.4 531.6,567.5 533.1,567.6 534.6,567.7 536.1,567.8 537.6,567.8"/>
<path d="M217.0,659.9 218.6,659.0 220.3,658.1 221.9,657.2M226.0,655.0 227.6,654.2 229.3,653.3 230.9,652.4M235.0,650.2 236.6,649.3 238.3,648.5 239.9,647.6M244.0,645.4 245.6,644.6 247.2,643.7 248.9,642.8M252.9,640.7 254.6,639.9 256.2,639.0 257.9,638.1M261.9,636.0 263.6,635.2 265.3,634.3 266.9,633.5M271.0,631.4 272.6,630.6 274.3,629.7 275.9,628.9M280.0,626.9 281.6,626.1 283.3,625.2 285.0,624.4M289.0,622.4 290.7,621.6 292.3,620.8 294.0,620.0M298.0,618.1 299.7,617.3 301.4,616.5 303.1,615.7M307.1,613.8 308.8,613.0 310.5,612.2 312.1,611.5M316.2,609.6 317.8,608.9 319.5,608.1 321.2,607.4M325.2,605.6 326.9,604.8 328.6,604.1 330.3,603.4M334.3,601.7 336.0,601.0 337.7,600.2 339.4,599.5M343.4,597.9 345.1,597.2 346.8,596.5 348.6,595.8M352.6,594.3 354.3,593.6 356.0,592.9 357.7,592.3M361.7,590.8 363.4,590.1 365.1,589.5 366.8,588.8M370.8,587.4 372.6,586.8 374.3,586.2 376.0,585.5M380.0,584.1 381.7,583.5 383.5,582.9 385.2,582.4M389.2,581.0 390.9,580.4 392.6,579.8 394.4,579.3M398.3,578.0 400.1,577.4 401.8,576.9 403.5,576.3M407.5,575.0 409.3,574.5 411.0,573.9 412.7,573.4M416.7,572.2 418.5,571.7 420.2,571.1 421.9,570.6M425.9,569.4 427.7,568.9 429.4,568.4 431.1,567.9M435.1,566.7 436.9,566.2 438.6,565.7 440.4,565.2M444.3,564.1 446.1,563.6 447.8,563.1 449.6,562.6M453.5,561.5 455.3,561.0 457.0,560.5 458.8,560.1M462.7,559.0 464.5,558.5 466.2,558.0 468.0,557.5M472.0,556.5 474.5,555.8M519.1,544.0 520.9,543.5 522.6,543.1 524.4,542.6M528.3,541.6 530.1,541.1 531.8,540.6 533.6,540.1M537.5,539.1 537.6,539.1"/>
<path d="M268.4,661.2 269.3,660.0 270.2,658.7 271.1,657.5 272.0,656.3M276.1,650.7 277.0,649.5 277.9,648.3 278.8,647.1 279.7,645.9M283.8,640.5 284.8,639.3 285.7,638.1 286.6,636.9 287.5,635.7M291.7,630.5 292.9,628.9 294.2,627.3 295.4,625.8M299.6,620.7 300.9,619.1 302.1,617.6 303.4,616.1M307.6,611.1 308.9,609.6 310.1,608.1 311.4,606.6M315.6,601.8 316.9,600.3 318.2,598.8 319.5,597.3M323.7,592.6 325.0,591.2 326.4,589.7 327.7,588.3M331.9,583.7 333.2,582.3 334.6,580.9 335.9,579.5M340.1,575.1 341.5,573.7 342.8,572.3 344.2,570.9M348.4,566.6 349.8,565.2 351.2,563.9 352.5,562.5M356.7,558.4 358.1,557.0 359.5,555.7 360.9,554.3M365.1,550.3 366.5,549.0 367.9,547.7 369.4,546.3M373.5,542.5 375.0,541.2 376.4,539.9 377.9,538.6M382.0,534.8 383.5,533.6 384.9,532.3 386.4,531.0M390.5,527.4 392.0,526.1 393.5,524.9 394.9,523.6M399.1,520.1 400.6,518.9 402.1,517.6 403.5,516.4M407.7,513.0 409.2,511.8 410.7,510.6 412.2,509.4M416.3,506.1 417.8,504.9 419.3,503.7 420.8,502.5M425.0,499.3 426.5,498.1 428.0,496.9 429.5,495.8M433.7,492.6 435.2,491.5 436.7,490.3 438.2,489.2M442.4,486.1 443.9,485.0 445.4,483.8 447.0,482.7M451.1,479.7 452.6,478.6 454.2,477.5 455.7,476.3M459.9,473.4 461.4,472.3 463.0,471.2 464.5,470.1M468.6,467.2 470.2,466.1 471.7,465.0 473.3,463.9M477.4,461.1 479.0,460.0 480.5,458.9 482.1,457.8M486.2,455.0 487.8,454.0 489.3,452.9 490.9,451.8M495.0,449.0 496.6,448.0 498.1,446.9 499.7,445.9M503.8,443.1 505.4,442.0 507.0,441.0 508.5,439.9M512.6,437.2 514.2,436.1 515.8,435.1 517.4,434.0M521.5,431.3 523.0,430.2 524.6,429.2 526.2,428.1M530.3,425.4 531.8,424.3 533.4,423.3 535.0,422.2"/>
<path d="M283.6,665.6 284.5,664.4 285.3,663.2 286.2,661.9 287.1,660.7 287.9,659.5 288.8,658.2 289.7,657.0 290.5,655.8 291.4,654.6 292.3,653.3 293.2,652.1 294.1,650.9 294.9,649.7 295.8,648.5 296.7,647.2 297.6,646.0 298.5,644.8 299.4,643.6 300.3,642.4 301.2,641.2 302.1,640.0 303.0,638.8 303.9,637.6 304.8,636.4 305.7,635.2 306.6,634.0 307.5,632.8 308.4,631.6 309.4,630.4 310.3,629.2 311.2,628.0 312.1,626.8 313.0,625.6 314.0,624.4 314.9,623.2 315.8,622.1 316.8,620.9 317.7,619.7 318.6,618.5 319.6,617.3 320.5,616.2 321.4,615.0 322.4,613.8 323.3,612.6 324.3,611.5 325.2,610.3 326.2,609.1 327.1,608.0 328.1,606.8 329.0,605.7 330.0,604.5 331.0,603.3 331.9,602.2 332.9,601.0 333.9,599.9 334.8,598.7 335.8,597.6 336.8,596.4 337.8,595.3 338.7,594.1 339.7,593.0 340.7,591.9 341.7,590.7 342.7,589.6 343.7,588.4 344.7,587.3 345.7,586.2 346.6,585.1 347.6,583.9 348.6,582.8 349.6,581.7 350.6,580.6 351.7,579.4 352.7,578.3 353.7,577.2 354.7,576.1 355.7,575.0 356.7,573.9 357.7,572.8 358.7,571.6 359.8,570.5 360.8,569.4 361.8,568.3 362.8,567.2 363.9,566.1 364.9,565.0 365.9,563.9 367.0,562.9 368.0,561.8 369.1,560.7 370.1,559.6 371.1,558.5 372.2,557.4 373.2,556.3 374.3,555.3 375.3,554.2 376.4,553.1 377.5,552.0 378.5,551.0 379.6,549.9 380.6,548.8 381.7,547.8 382.8,546.7 383.8,545.7 384.9,544.6 386.0,543.5 387.1,542.5 388.1,541.4 389.2,540.4 390.3,539.3 391.4,538.3 392.5,537.2 393.5,536.2 394.6,535.2 395.7,534.1 396.8,533.1 397.9,532.1 399.0,531.0 400.1,530.0 401.2,529.0 402.3,527.9 403.4,526.9 404.5,525.9 405.6,524.9 406.7,523.9 407.8,522.8 408.9,521.8 410.1,520.8 411.2,519.8 412.3,518.8 413.4,517.8 414.5,516.8 415.7,515.8 416.8,514.8 417.9,513.8 419.0,512.8 420.2,511.8 421.3,510.8 422.4,509.8 423.6,508.8 424.7,507.8 425.9,506.9 427.0,505.9 428.1,504.9 429.3,503.9 430.4,502.9 431.6,502.0 432.7,501.0 433.9,500.0 435.0,499.1 436.2,498.1 437.3,497.1 438.5,496.2 439.7,495.2 440.8,494.2 442.0,493.3 443.1,492.3 444.3,491.4 445.5,490.4 446.6,489.5 447.8,488.5 449.0,487.6 450.2,486.7 451.3,485.7 452.5,484.8 453.7,483.8 454.9,482.9 456.0,482.0 457.2,481.0 458.4,480.1 459.6,479.2 460.8,478.2 462.0,477.3 463.2,476.4 464.3,475.5 465.5,474.6 466.7,473.6 467.9,472.7 469.1,471.8 470.3,470.9 471.5,470.0 472.7,469.1 473.9,468.2 475.1,467.2 476.3,466.3 477.5,465.4 478.7,464.5 479.9,463.6 481.1,462.7 482.3,461.8 483.6,460.9 484.8,460.0 486.0,459.2 487.2,458.3 488.4,457.4 489.6,456.5 490.8,455.6 492.0,454.7 493.3,453.8 494.5,452.9 495.7,452.1 496.9,451.2 498.1,450.3 499.4,449.4 500.6,448.5 501.8,447.7 503.0,446.8 504.3,445.9 505.5,445.0 506.7,444.2 507.9,443.3 509.2,442.4 510.4,441.6 511.6,440.7 512.9,439.8 514.1,439.0 515.3,438.1 516.6,437.2 517.8,436.4 519.0,435.5 520.3,434.6 521.5,433.8 522.7,432.9 524.0,432.1 525.2,431.2 526.4,430.3 527.7,429.5 528.9,428.6 530.2,427.8 531.4,426.9 532.6,426.1 533.9,425.2 535.1,424.4 536.4,423.5 537.6,422.7"/>
<path d="M441.5,664.8 443.1,663.8 444.7,662.9 446.3,661.9M450.4,659.4 452.0,658.4 453.6,657.5 455.2,656.5M459.3,654.1 460.9,653.1 462.5,652.1 464.1,651.2M468.2,648.8 469.8,647.8 471.5,646.9 473.1,645.9M477.2,643.6 478.8,642.7 480.4,641.7 482.0,640.8M486.1,638.5 487.7,637.6 489.4,636.7 491.0,635.8M495.1,633.5 496.7,632.6 498.3,631.7 500.0,630.9M504.0,628.7 505.7,627.8 507.3,626.9 509.0,626.1M513.0,624.0 514.7,623.1 516.4,622.3 518.0,621.5M522.1,619.5 523.7,618.6 525.4,617.8 527.1,617.0M531.1,615.1 532.8,614.3 534.5,613.5 536.1,612.8"/>
<path d="M453.8,664.8 455.3,663.8 456.9,662.9 458.5,661.9M462.6,659.3 464.2,658.3 465.8,657.3 467.4,656.4M471.5,653.8 473.1,652.8 474.7,651.9 476.3,650.9M480.4,648.4 482.0,647.4 483.6,646.4 485.2,645.4M489.3,642.9 490.9,641.9 492.5,640.9 494.1,640.0M498.2,637.5 499.8,636.5 501.4,635.5 503.0,634.6M507.1,632.1 508.7,631.1 510.3,630.2 511.9,629.2M516.0,626.8 517.6,625.8 519.2,624.9 520.9,623.9M524.9,621.5 526.5,620.6 528.2,619.6 529.8,618.7M533.9,616.3 535.7,615.3 537.6,614.2"/>
<path d="M106.1,472.9 106.8,474.2 107.5,475.5 108.2,476.9 109.0,478.2 109.7,479.6 110.4,480.9 111.1,482.2 111.8,483.6 112.5,484.9 113.2,486.2 113.9,487.6 114.7,488.9 115.4,490.2 116.1,491.6 116.8,492.9 117.5,494.2 118.2,495.6 119.0,496.9 119.7,498.3 120.4,499.6 121.1,500.9 121.8,502.3 122.5,503.6 123.3,504.9 124.0,506.3 124.7,507.6 125.4,508.9 126.1,510.3 126.8,511.6 127.6,512.9 128.3,514.3 129.0,515.6 129.7,516.9 130.5,518.3 131.2,519.6 131.9,520.9 132.6,522.2 133.3,523.6 134.1,524.9 134.8,526.2 135.5,527.6 136.2,528.9 137.0,530.2 137.7,531.6 138.4,532.9 139.1,534.2 139.9,535.5 140.6,536.9 141.3,538.2 142.1,539.5 142.8,540.9 143.5,542.2 144.3,543.5 145.0,544.8 145.7,546.2 146.5,547.5 147.2,548.8 147.9,550.1 148.7,551.5 149.4,552.8 150.1,554.1 150.9,555.4 151.6,556.7 152.4,558.1 153.1,559.4 153.9,560.7 154.6,562.0 155.3,563.3 156.1,564.7 156.8,566.0 157.6,567.3 158.3,568.6 159.1,569.9 159.8,571.2 160.6,572.6 161.3,573.9 162.1,575.2 162.8,576.5 163.6,577.8 164.4,579.1 165.1,580.4 165.9,581.7 166.6,583.1 167.4,584.4 168.2,585.7 168.9,587.0 169.7,588.3 170.5,589.6 171.2,590.9 172.0,592.2 172.8,593.5 173.5,594.8 174.3,596.1 175.1,597.4 175.9,598.7 176.6,600.0 177.4,601.3 178.2,602.6M202.5,641.0 203.3,642.3 204.2,643.5 205.0,644.8 205.9,646.1 206.8,647.4 207.6,648.6 208.5,649.9 209.4,651.2 210.3,652.4 211.1,653.7 212.0,655.0 212.9,656.2 213.8,657.5 214.7,658.7 215.6,660.0 216.5,661.2 217.4,662.5 218.3,663.7 219.2,665.0"/>
</g>
<g stroke="#0c0808" stroke-linecap="butt">
<line x1="84.83" y1="665.15" x2="84.83" y2="662.15" stroke-width="2.5"/>
<line x1="84.83" y1="3.75" x2="84.83" y2="7.25" stroke-width="2.5"/>
<line x1="149.50" y1="665.15" x2="149.50" y2="658.65" stroke-width="2.5"/>
<line x1="149.50" y1="3.75" x2="149.50" y2="11.25" stroke-width="2.5"/>
<line x1="214.18" y1="665.15" x2="214.18" y2="662.15" stroke-width="2.5"/>
<line x1="214.18" y1="3.75" x2="214.18" y2="7.25" stroke-width="2.5"/>
<line x1="278.85" y1="665.15" x2="278.85" y2="658.65" stroke-width="2.5"/>
<line x1="278.85" y1="3.75" x2="278.85" y2="11.25" stroke-width="2.5"/>
<line x1="343.52" y1="665.15" x2="343.52" y2="662.15" stroke-width="2.5"/>
<line x1="343.52" y1="3.75" x2="343.52" y2="7.25" stroke-width="2.5"/>
<line x1="408.20" y1="665.15" x2="408.20" y2="658.65" stroke-width="2.5"/>
<line x1="408.20" y1="3.75" x2="408.20" y2="11.25" stroke-width="2.5"/>
<line x1="472.88" y1="665.15" x2="472.88" y2="662.15" stroke-width="2.5"/>
<line x1="472.88" y1="3.75" x2="472.88" y2="7.25" stroke-width="2.5"/>
<line x1="537.55" y1="665.15" x2="537.55" y2="658.65" stroke-width="2.5"/>
<line x1="537.55" y1="3.75" x2="537.55" y2="11.25" stroke-width="2.5"/>
<line x1="73.00" y1="652.67" x2="76.50" y2="652.67" stroke-width="2.5"/>
<line x1="587.90" y1="652.67" x2="584.40" y2="652.67" stroke-width="2.5"/>
<line x1="73.00" y1="640.10" x2="76.50" y2="640.10" stroke-width="2.5"/>
<line x1="587.90" y1="640.10" x2="584.40" y2="640.10" stroke-width="2.5"/>
<line x1="73.00" y1="629.02" x2="76.50" y2="629.02" stroke-width="2.5"/>
<line x1="587.90" y1="629.02" x2="584.40" y2="629.02" stroke-width="2.5"/>
<line x1="73.00" y1="619.10" x2="80.50" y2="619.10" stroke-width="2.5"/>
<line x1="587.90" y1="619.10" x2="580.40" y2="619.10" stroke-width="2.5"/>
<line x1="73.00" y1="553.87" x2="76.50" y2="553.87" stroke-width="2.5"/>
<line x1="587.90" y1="553.87" x2="584.40" y2="553.87" stroke-width="2.5"/>
<line x1="73.00" y1="515.71" x2="76.50" y2="515.71" stroke-width="2.5"/>
<line x1="587.90" y1="515.71" x2="584.40" y2="515.71" stroke-width="2.5"/>
<line x1="73.00" y1="488.63" x2="76.50" y2="488.63" stroke-width="2.5"/>
<line x1="587.90" y1="488.63" x2="584.40" y2="488.63" stroke-width="2.5"/>
<line x1="73.00" y1="467.63" x2="76.50" y2="467.63" stroke-width="2.5"/>
<line x1="587.90" y1="467.63" x2="584.40" y2="467.63" stroke-width="2.5"/>
<line x1="73.00" y1="450.47" x2="76.50" y2="450.47" stroke-width="2.5"/>
<line x1="587.90" y1="450.47" x2="584.40" y2="450.47" stroke-width="2.5"/>
<line x1="73.00" y1="435.97" x2="76.50" y2="435.97" stroke-width="2.5"/>
<line x1="587.90" y1="435.97" x2="584.40" y2="435.97" stroke-width="2.5"/>
<line x1="73.00" y1="423.40" x2="76.50" y2="423.40" stroke-width="2.5"/>
<line x1="587.90" y1="423.40" x2="584.40" y2="423.40" stroke-width="2.5"/>
<line x1="73.00" y1="412.32" x2="76.50" y2="412.32" stroke-width="2.5"/>
<line x1="587.90" y1="412.32" x2="584.40" y2="412.32" stroke-width="2.5"/>
<line x1="73.00" y1="402.40" x2="80.50" y2="402.40" stroke-width="2.5"/>
<line x1="587.90" y1="402.40" x2="580.40" y2="402.40" stroke-width="2.5"/>
<line x1="73.00" y1="337.17" x2="76.50" y2="337.17" stroke-width="2.5"/>
<line x1="587.90" y1="337.17" x2="584.40" y2="337.17" stroke-width="2.5"/>
<line x1="73.00" y1="299.01" x2="76.50" y2="299.01" stroke-width="2.5"/>
<line x1="587.90" y1="299.01" x2="584.40" y2="299.01" stroke-width="2.5"/>
<line x1="73.00" y1="271.93" x2="76.50" y2="271.93" stroke-width="2.5"/>
<line x1="587.90" y1="271.93" x2="584.40" y2="271.93" stroke-width="2.5"/>
<line x1="73.00" y1="250.93" x2="76.50" y2="250.93" stroke-width="2.5"/>
<line x1="587.90" y1="250.93" x2="584.40" y2="250.93" stroke-width="2.5"/>
<line x1="73.00" y1="233.77" x2="76.50" y2="233.77" stroke-width="2.5"/>
<line x1="587.90" y1="233.77" x2="584.40" y2="233.77" stroke-width="2.5"/>
<line x1="73.00" y1="219.27" x2="76.50" y2="219.27" stroke-width="2.5"/>
<line x1="587.90" y1="219.27" x2="584.40" y2="219.27" stroke-width="2.5"/>
<line x1="73.00" y1="206.70" x2="76.50" y2="206.70" stroke-width="2.5"/>
<line x1="587.90" y1="206.70" x2="584.40" y2="206.70" stroke-width="2.5"/>
<line x1="73.00" y1="195.62" x2="76.50" y2="195.62" stroke-width="2.5"/>
<line x1="587.90" y1="195.62" x2="584.40" y2="195.62" stroke-width="2.5"/>
<line x1="73.00" y1="185.70" x2="80.50" y2="185.70" stroke-width="2.5"/>
<line x1="587.90" y1="185.70" x2="580.40" y2="185.70" stroke-width="2.5"/>
<line x1="73.00" y1="120.47" x2="76.50" y2="120.47" stroke-width="2.5"/>
<line x1="587.90" y1="120.47" x2="584.40" y2="120.47" stroke-width="2.5"/>
<line x1="73.00" y1="82.31" x2="76.50" y2="82.31" stroke-width="2.5"/>
<line x1="587.90" y1="82.31" x2="584.40" y2="82.31" stroke-width="2.5"/>
<line x1="73.00" y1="55.23" x2="76.50" y2="55.23" stroke-width="2.5"/>
<line x1="587.90" y1="55.23" x2="584.40" y2="55.23" stroke-width="2.5"/>
<line x1="73.00" y1="34.23" x2="76.50" y2="34.23" stroke-width="2.5"/>
<line x1="587.90" y1="34.23" x2="584.40" y2="34.23" stroke-width="2.5"/>
<line x1="73.00" y1="17.07" x2="76.50" y2="17.07" stroke-width="2.5"/>
<line x1="587.90" y1="17.07" x2="584.40" y2="17.07" stroke-width="2.5"/>
</g>
<rect x="71.7" y="2.45" width="517.50" height="664.00" fill="none" stroke="#0c0808" stroke-width="2.6"/>
<path d="M207.8,665.6 C208.6,662.2 212.6,661.2 215.8,663.4" fill="none" stroke="#1c1c1c" stroke-width="1.25"/>
<!-- arrows -->
<g stroke="#1c1c1c" stroke-width="1.25" fill="none">
<line x1="301.5" y1="584.5" x2="317" y2="584.5"/>
<line x1="343.5" y1="633.6" x2="318" y2="633.6"/>
<line x1="456.5" y1="618.8" x2="456.5" y2="641"/>
<line x1="530.5" y1="644.4" x2="507" y2="644.4"/>
</g>
<g fill="#1c1c1c">
<polygon points="325.8,584.5 315.6,581.9 315.6,587.1"/>
<polygon points="309.3,633.6 319.5,631 319.5,636.2"/>
<polygon points="456.5,649.6 453.9,639.4 459.1,639.4"/>
<polygon points="498.1,644.4 508.3,641.8 508.3,647"/>
</g>
<!-- curve labels -->
<g class="l">
<text x="151.5" y="37.5">CF<tspan class="s" dy="7">4</tspan></text>
<text x="291.5" y="110">CHF<tspan class="s" dy="7">3</tspan></text>
<text x="466.3" y="172.5">HF</text>
<text x="464.5" y="210.3">CF<tspan class="s" dy="7">3</tspan></text>
<text x="247" y="272.8">CF<tspan class="s" dy="7">2</tspan></text>
<text x="170.5" y="296.5">F</text>
<text x="143.3" y="371.4">CF</text>
<text x="434.3" y="378.6">CH<tspan class="s" dy="7.5">2</tspan><tspan dy="-7.5">F</tspan><tspan class="s" dy="7.5">2</tspan></text>
<text x="139.3" y="453">CHF<tspan class="s" dy="7">2</tspan></text>
<text x="206.8" y="461.6">CHF</text>
<text x="288.3" y="488.5">H</text>
<text x="285.3" y="551.8">H<tspan class="s" dy="7">2</tspan></text>
<text x="483.5" y="550.5">CH</text>
<text x="249" y="591.3">CH<tspan class="s" dy="7">2</tspan><tspan dy="-7">F</tspan></text>
<text x="180.3" y="627">F<tspan class="s" dy="7">2</tspan></text>
<text x="349.5" y="640.5">CH<tspan class="s" dy="7">3</tspan><tspan dy="-7">F</tspan></text>
<text x="435.3" y="614.5">CH<tspan class="s" dy="7">2</tspan></text>
<text x="534.3" y="650.5">CH<tspan class="s" dy="7">3</tspan></text>
</g>
<text x="530.8" y="45.6" style="font-size:24px;font-weight:bold">(a)</text>
<!-- tick labels -->
<g class="l" text-anchor="middle">
<text x="150.5" y="689.9">10</text>
<text x="279.5" y="689.9">15</text>
<text x="408.5" y="689.9">20</text>
<text x="537.5" y="689.9">25</text>
</g>
<g class="l">
<text x="36" y="193.2" style="font-size:19.3px">10<tspan style="font-size:11.5px" dy="-11.5">-1</tspan></text>
<text x="36" y="409.9" style="font-size:19.3px">10<tspan style="font-size:11.5px" dy="-11.5">-2</tspan></text>
<text x="36" y="626.4" style="font-size:19.3px">10<tspan style="font-size:11.5px" dy="-11.5">-3</tspan></text>
</g>
<!-- axis titles -->
<text x="188.3" y="724.1" style="font-size:19.5px">CH<tspan class="s" dy="7">2</tspan><tspan dy="-7">F</tspan><tspan class="s" dy="7">2</tspan><tspan dy="-7"> fraction in CF</tspan><tspan class="s" dy="7">4</tspan><tspan dy="-7">/CH</tspan><tspan class="s" dy="7">2</tspan><tspan dy="-7">F</tspan><tspan class="s" dy="7">2</tspan><tspan dy="-7">/N</tspan><tspan class="s" dy="7">2</tspan><tspan dy="-7">/Ar</tspan></text>
<text class="l" transform="translate(17,334.5) rotate(-90)" text-anchor="middle">Mole fraction</text>
</svg>
</body></html>
